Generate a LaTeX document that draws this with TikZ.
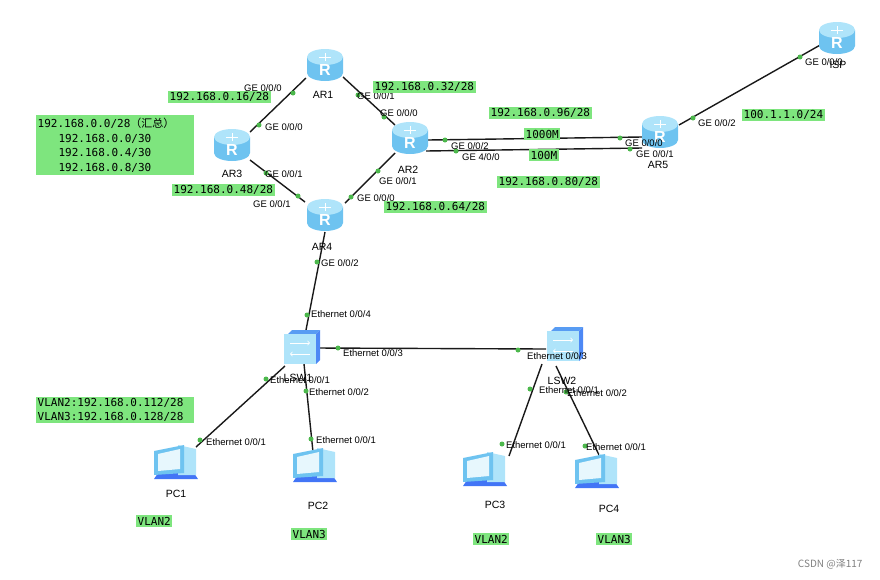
\documentclass[tikz,border=0pt]{standalone}
\usepackage{fontspec}
\setmainfont{Liberation Sans}
\newfontfamily\monof{DejaVu Sans Mono}
\newfontfamily\cjkf{Noto Sans CJK SC}
\begin{document}
\begin{tikzpicture}[x=1pt,y=-1pt,
  lbl/.style={font=\fontsize{9.5}{10}\selectfont,inner sep=0pt,anchor=west},
  devname/.style={font=\fontsize{10.5}{11}\selectfont,inner sep=0pt},
  net/.style={fill=green!45!white!90!black,font=\monof\fontsize{11}{13}\selectfont,inner sep=1.5pt,anchor=west},
  dot/.style={circle,fill=green!60!black!70!white,inner sep=0pt,minimum size=5pt},
  link/.style={line width=1.4pt,black!90}]
\definecolor{rb}{RGB}{110,195,240}
\definecolor{rt}{RGB}{175,228,250}
\useasboundingbox (0,0) rectangle (880,579);
\tikzset{router/.pic={
  \fill[rb] (-18,-8) -- (-18,8) arc[start angle=180,end angle=0,x radius=18,y radius=8] -- (18,-8) -- cycle;
  \fill[rt] (0,-8) ellipse[x radius=18,y radius=8];
  \draw[white,thin] (-6,-8) -- (6,-8) (0,-12) -- (0,-4);
  \node[white,font=\bfseries\fontsize{16}{16}\selectfont] at (0,5) {R};}}
\tikzset{switch/.pic={
  \fill[rb!80!blue] (-12,-14) -- (-8,-18) -- (20,-18) -- (16,-14) -- cycle;
  \fill[rb!70!blue] (16,-14) -- (20,-18) -- (20,12) -- (16,16) -- cycle;
  \fill[rt] (-16,-14) rectangle (16,16);
  \draw[white,thick,->] (-10,-5) -- (10,-5);
  \draw[white,thick,<-] (-10,6) -- (10,6);}}
\tikzset{pc/.pic={
  \fill[rb!60!blue] (-22,16) -- (22,16) -- (18,10) -- (-18,10) -- cycle;
  \fill[rt] (2,-18) -- (20,-14) -- (20,12) -- (2,12) -- cycle;
  \fill[rb] (-22,-12) -- (8,-18) -- (8,10) -- (-22,12) -- cycle;
  \fill[white!70!rt] (-18,-9) -- (4,-14) -- (4,6) -- (-18,8) -- cycle;}}
% links
\draw[link] (306,78) -- (250,132);
\draw[link] (343,77) -- (395,125);
\draw[link] (250,160) -- (305,202);
\draw[link] (395,153) -- (345,203);
\draw[link] (428,140) -- (642,137);
\draw[link] (426,151) -- (642,148);
\draw[link] (679,125) -- (822,44);
\draw[link] (325,232) -- (306,330);
\draw[link] (316,348) -- (546,349);
\draw[link] (285,366) -- (196,447);
\draw[link] (304,364) -- (313,452);
\draw[link] (542,364) -- (509,456);
\draw[link] (556,366) -- (600,457);
% devices
\node (AR1) at (325,65) {}; \pic at (325,65) {router};
\node (AR3) at (232,145) {}; \pic at (232,145) {router};
\node (AR2) at (410,138) {}; \pic at (410,138) {router};
\node (AR4) at (325,215) {}; \pic at (325,215) {router};
\node (AR5) at (660,132) {}; \pic at (660,132) {router};
\node (ISP) at (837,38) {}; \pic at (837,38) {router};
\node (LSW1) at (300,348) {}; \pic at (300,348) {switch};
\node (LSW2) at (563,345) {}; \pic at (563,345) {switch};
\node (PC1) at (176,463) {}; \pic at (176,463) {pc};
\node (PC2) at (315,466) {}; \pic at (315,466) {pc};
\node (PC3) at (485,470) {}; \pic at (485,470) {pc};
\node (PC4) at (597,472) {}; \pic at (597,472) {pc};
% dots and labels
\foreach \x/\y in {293/93,259/125,358/95,384/117,266/173,298/196,378/171,351/197,445/140,620/138,456/151,630/149,693/118,800/57,317/262,307/315,338/348,518/350,266/379,200/440,306/391,311/439,530/389,502/444,566/392,585/446}
  \node[dot] at (\x,\y) {};
\node[lbl] at (244,88) {GE 0/0/0};
\node[lbl] at (265,127) {GE 0/0/0};
\node[lbl] at (357,96) {GE 0/0/1};
\node[lbl] at (380,113) {GE 0/0/0};
\node[lbl] at (265,174) {GE 0/0/1};
\node[lbl] at (253,204) {GE 0/0/1};
\node[lbl] at (379,181) {GE 0/0/1};
\node[lbl] at (357,198) {GE 0/0/0};
\node[lbl] at (451,146) {GE 0/0/2};
\node[lbl] at (625,143) {GE 0/0/0};
\node[lbl] at (462,157) {GE 4/0/0};
\node[lbl] at (636,154) {GE 0/0/1};
\node[lbl] at (698,123) {GE 0/0/2};
\node[lbl] at (805,62) {GE 0/0/0};
\node[lbl] at (321,263) {GE 0/0/2};
\node[lbl] at (311,314) {Ethernet 0/0/4};
\node[lbl] at (343,353) {Ethernet 0/0/3};
\node[lbl] at (527,356) {Ethernet 0/0/3};
\node[lbl] at (270,380) {Ethernet 0/0/1};
\node[lbl] at (206,442) {Ethernet 0/0/1};
\node[lbl] at (309,392) {Ethernet 0/0/2};
\node[lbl] at (316,440) {Ethernet 0/0/1};
\node[lbl] at (539,390) {Ethernet 0/0/1};
\node[lbl] at (506,445) {Ethernet 0/0/1};
\node[lbl] at (567,393) {Ethernet 0/0/2};
\node[lbl] at (586,447) {Ethernet 0/0/1};
% names
\node[devname] at (323,95) {AR1};
\node[devname] at (232,174) {AR3};
\node[devname] at (408,170) {AR2};
\node[devname] at (322,247) {AR4};
\node[devname] at (658,165) {AR5};
\node[devname] at (838,65) {ISP};
\node[devname] at (298,378) {LSW1};
\node[devname] at (562,381) {LSW2};
\node[devname] at (176,494) {PC1};
\node[devname] at (318,506) {PC2};
\node[devname] at (495,505) {PC3};
\node[devname] at (609,509) {PC4};
% networks
\node[net] at (168,97) {192.168.0.16/28};
\node[net] at (373,87) {192.168.0.32/28};
\node[net,anchor=north west,align=left,text width=155pt,minimum height=60pt] at (36,115) {192.168.0.0/28{\cjkf（汇总）}\\[1.5pt]\hspace{1.9em}192.168.0.0/30\\[1.5pt]\hspace{1.9em}192.168.0.4/30\\[1.5pt]\hspace{1.9em}192.168.0.8/30};
\node[net] at (489,113) {192.168.0.96/28};
\node[net] at (524,134) {1000M};
\node[net] at (529,155) {100M};
\node[net] at (497,182) {192.168.0.80/28};
\node[net] at (172,190) {192.168.0.48/28};
\node[net] at (384,207) {192.168.0.64/28};
\node[net] at (742,115) {100.1.1.0/24};
\node[net,align=left,text width=155pt] at (36,410) {VLAN2:192.168.0.112/28\\[1pt]VLAN3:192.168.0.128/28};
\node[net] at (136,521) {VLAN2};
\node[net] at (291,534) {VLAN3};
\node[net] at (473,539) {VLAN2};
\node[net] at (596,539) {VLAN3};
\node[font=\cjkf\fontsize{10}{11}\selectfont,gray,anchor=east] at (866,564) {CSDN @泽117};
\end{tikzpicture}
\end{document}
